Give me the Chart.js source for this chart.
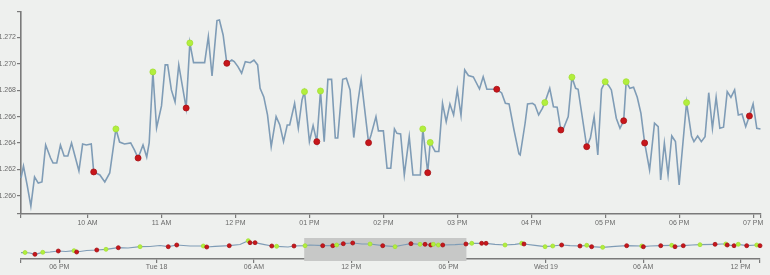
<!DOCTYPE html>
<html>
<head>
<meta charset="utf-8">
<script src="https://cdn.jsdelivr.net/npm/chart.js@4/dist/chart.umd.min.js"></script>
<style>
    body { margin: 0; background: #eef0ee; width: 770px; height: 275px; overflow: hidden; position: relative; }
    canvas { position: absolute; left: 0; }
    #mainChart { top: 0; }
    #navChart { top: 230px; }
</style>
</head>
<body>
<canvas id="mainChart" width="770" height="230"></canvas>
<canvas id="navChart" width="770" height="45"></canvas>

<script>
// ===============================
// DATA - main view (Tue 18, minutes since midnight)
// ===============================
const mainTimes = [
    546, 548, 551, 554, 557, 560, 563, 566, 570, 572,
    575, 578, 581, 584, 587, 590, 593, 596, 599, 603,
    605, 610, 614, 618, 623, 626, 630, 635, 638, 641,
    645, 648, 650, 653, 656, 660, 663, 665, 668, 671,
    674, 680, 683, 686, 695, 698, 701, 705, 707, 710,
    713, 717, 719, 722, 725, 728, 732, 735, 738, 740,
    743, 746, 749, 753, 756, 759, 762, 764, 768, 771,
    774, 776, 780, 783, 786, 789, 792, 795, 798, 801,
    803, 807, 810, 813, 816, 819, 822, 828, 830, 834,
    836, 840, 843, 846, 849, 851, 854, 857, 861, 864,
    870, 872, 876, 878, 882, 885, 888, 891, 894, 897,
    900, 903, 906, 909, 913, 918, 921, 924, 932, 936,
    939, 942, 946, 950, 951, 955, 957, 961, 963, 966,
    969, 971, 975, 978, 981, 984, 986, 990, 993, 996,
    998, 1005, 1008, 1011, 1014, 1017, 1020, 1023, 1025, 1029,
    1032, 1035, 1037, 1040, 1043, 1046, 1049, 1052, 1056, 1060,
    1063, 1065, 1068, 1071, 1074, 1077, 1080, 1086, 1090, 1092,
    1095, 1098, 1101, 1104, 1107, 1110, 1113, 1116, 1119, 1122,
    1125, 1128, 1131, 1134, 1137, 1140, 1143, 1146
];

const mainPrices = [
    1.26136, 1.26227, 1.26083, 1.25924, 1.26144, 1.26098, 1.26106, 1.26386, 1.26287, 1.26250,
    1.26250, 1.26386, 1.26303, 1.26303, 1.26401, 1.26295, 1.26189, 1.26393, 1.26386, 1.26393,
    1.26182, 1.26159, 1.26106, 1.26174, 1.26507, 1.26408, 1.26393, 1.26401, 1.26348, 1.26287,
    1.26386, 1.26295, 1.26401, 1.26938, 1.26514, 1.26681, 1.26991, 1.26991, 1.26802, 1.26711,
    1.26991, 1.26665, 1.27157, 1.27008, 1.27008, 1.27205, 1.26907, 1.27326, 1.27331, 1.27217,
    1.27003, 1.27028, 1.27016, 1.26978, 1.26928, 1.27016, 1.27008, 1.27028, 1.26991, 1.26814,
    1.26749, 1.26613, 1.26373, 1.26600, 1.26537, 1.26411, 1.26537, 1.26537, 1.26701, 1.26512,
    1.26726, 1.26789, 1.26411, 1.26533, 1.26411, 1.26794, 1.26411, 1.26882, 1.26882, 1.26439,
    1.26439, 1.26882, 1.26890, 1.26802, 1.26442, 1.26688, 1.26882, 1.26403, 1.26461, 1.26600,
    1.26492, 1.26492, 1.26210, 1.26210, 1.26507, 1.26474, 1.26469, 1.26159, 1.26448, 1.26159,
    1.26159, 1.26507, 1.26176, 1.26405, 1.26337, 1.26337, 1.26701, 1.26562, 1.26696, 1.26613,
    1.26802, 1.26609, 1.26953, 1.26911, 1.26900, 1.26809, 1.26901, 1.26807, 1.26807, 1.26779,
    1.26701, 1.26696, 1.26499, 1.26318, 1.26310, 1.26550, 1.26696, 1.26701, 1.26688, 1.26613,
    1.26663, 1.26706, 1.26814, 1.26675, 1.26671, 1.26499, 1.26507, 1.26600, 1.26898, 1.26814,
    1.26807, 1.26373, 1.26439, 1.26600, 1.26310, 1.26807, 1.26864, 1.26832, 1.26802, 1.26588,
    1.26512, 1.26569, 1.26864, 1.26814, 1.26822, 1.26746, 1.26625, 1.26401, 1.26197, 1.26550,
    1.26524, 1.26121, 1.26399, 1.26159, 1.26454, 1.26411, 1.26083, 1.26706, 1.26454, 1.26411,
    1.26454, 1.26411, 1.26448, 1.26781, 1.26512, 1.26746, 1.26512, 1.26520, 1.26789, 1.26746,
    1.26802, 1.26613, 1.26620, 1.26524, 1.26605, 1.26696, 1.26512, 1.26507
];

// buy (green) and sell (red) signals, by time
const buyTimes = [623, 653, 683, 776, 789, 872, 878, 971, 993, 1020, 1037, 1086];
const sellTimes = [605, 641, 680, 713, 786, 828, 876, 932, 984, 1005, 1035, 1052, 1137];

// axis
const mainMin = 546;
const mainMax = 1146;
const mainTickTimes = [600, 660, 720, 780, 840, 900, 960, 1020, 1080, 1140];
const mainTickLabels = ["10 AM", "11 AM", "12 PM", "01 PM", "02 PM", "03 PM", "04 PM", "05 PM", "06 PM", "07 PM"];
const priceMin = 1.25864;
const priceMax = 1.27391;
const priceTicks = [1.260, 1.262, 1.264, 1.266, 1.268, 1.270, 1.272];

// ===============================
// DATA - navigator (hours since Mon 17 00:00)
// ===============================
const navHours = [
    15.64, 15.89, 16.19, 16.50, 16.98, 17.43, 17.94, 18.41, 18.91, 19.07,
    19.69, 20.31, 20.88, 21.64, 22.24, 22.98, 23.59, 24.21, 24.72, 25.24,
    26.06, 26.88, 27.09, 27.60, 28.48, 29.14, 29.65, 29.76, 30.07, 30.58,
    31.10, 31.40, 32.10, 32.47, 33.15, 33.46, 34.24, 34.86, 35.10, 35.51,
    36.09, 36.66, 37.16, 37.94, 38.70, 39.19, 39.68, 40.24, 40.55, 40.90,
    41.06, 41.37, 41.64, 42.40, 43.07, 43.43, 44.04, 44.31, 44.86, 45.48,
    46.10, 46.51, 46.65, 47.33, 47.95, 48.42, 48.97, 49.49, 50.10, 50.52,
    50.82, 51.50, 52.26, 52.98, 53.91, 54.01, 54.42, 55.08, 55.76, 55.96,
    56.47, 57.01, 57.50, 58.43, 58.84, 59.09, 59.18, 59.60, 59.86, 60.38,
    61.00, 61.20
];

const navPrices = [
    1.25676, 1.25700, 1.25640, 1.25484, 1.25724, 1.25760, 1.25880, 1.25820, 1.25916, 1.25760,
    1.25940, 1.26000, 1.26084, 1.26276, 1.26240, 1.26396, 1.26420, 1.26540, 1.26396, 1.26600,
    1.26480, 1.26480, 1.26360, 1.26444, 1.26516, 1.26660, 1.27116, 1.26876, 1.26876, 1.26684,
    1.26480, 1.26444, 1.26360, 1.26480, 1.26516, 1.26600, 1.26516, 1.26516, 1.26600, 1.26756,
    1.26840, 1.26720, 1.26720, 1.26516, 1.26396, 1.26600, 1.26756, 1.26684, 1.26684, 1.26600,
    1.26684, 1.26600, 1.26600, 1.26636, 1.26720, 1.26804, 1.26804, 1.26804, 1.26684, 1.26600,
    1.26684, 1.26804, 1.26720, 1.26564, 1.26396, 1.26480, 1.26600, 1.26516, 1.26480, 1.26564,
    1.26396, 1.26324, 1.26444, 1.26516, 1.26480, 1.26396, 1.26480, 1.26516, 1.26564, 1.26396,
    1.26516, 1.26600, 1.26636, 1.26684, 1.26720, 1.26720, 1.26600, 1.26516, 1.26684, 1.26516,
    1.26600, 1.26516
];

const navBuy = [15.89, 16.98, 18.91, 20.88, 22.98, 26.88, 29.65, 31.40, 33.15, 35.10,
    37.16, 38.70, 40.24, 41.06, 41.37, 43.43, 45.48, 46.51, 47.95, 48.42,
    50.52, 51.50, 53.91, 55.76, 57.50, 59.09, 59.86, 61.00];
const navSell = [16.50, 17.94, 19.07, 20.31, 21.64, 24.72, 25.24, 27.09, 28.48, 29.76,
    30.07, 31.10, 32.47, 34.24, 34.86, 35.51, 36.09, 37.94, 39.68, 40.55,
    40.90, 41.64, 43.07, 44.04, 44.31, 46.65, 48.97, 50.10, 50.82, 52.98,
    54.01, 55.08, 55.96, 56.47, 58.43, 59.18, 59.60, 60.38, 61.20];

const navMin = 15.64;
const navMax = 61.20;
const navTickHours = [18, 24, 30, 36, 42, 48, 54, 60];
const navTickLabels = ["06 PM", "Tue 18", "06 AM", "12 PM", "06 PM", "Wed 19", "06 AM", "12 PM"];

// ===============================
// STYLE
// ===============================
const lineColor = "#7f9cb6";
const axisColor = "#7a7a7a";
const labelColor = "#6a6a6a";
const buyColor = "#b2ef3c";
const sellColor = "#c8161b";
const tickFont = { family: "Liberation Sans", size: 7 };

function signalStyle(times, buys, sells, radius) {
    const buySet = new Set(buys);
    const sellSet = new Set(sells);
    return {
        pointRadius: ctx => {
            const t = times[ctx.dataIndex];
            return (buySet.has(t) || sellSet.has(t)) ? radius : 0;
        },
        pointHoverRadius: ctx => {
            const t = times[ctx.dataIndex];
            return (buySet.has(t) || sellSet.has(t)) ? radius : 0;
        },
        pointBackgroundColor: ctx => buySet.has(times[ctx.dataIndex]) ? buyColor : sellColor,
        pointBorderColor: ctx => buySet.has(times[ctx.dataIndex]) ? "#a3de35" : "#a51014",
        pointBorderWidth: 0.8
    };
}

// ===============================
// MAIN CHART
// ===============================
new Chart(document.getElementById("mainChart"), {
    type: "line",
    data: {
        datasets: [{
            data: mainTimes.map((t, i) => ({ x: t, y: mainPrices[i] })),
            borderColor: lineColor,
            borderWidth: 1.6,
            tension: 0,
            clip: false,
            ...signalStyle(mainTimes, buyTimes, sellTimes, 3)
        }]
    },
    options: {
        responsive: false,
        animation: false,
        events: [],
        layout: { padding: { top: 12, right: 9.5, left: 0, bottom: 0 } },
        plugins: { legend: { display: false }, tooltip: { enabled: false } },
        scales: {
            x: {
                type: "linear",
                min: mainMin,
                max: mainMax,
                afterBuildTicks: s => {
                    s.ticks = [mainMin, ...mainTickTimes, mainMax].map(v => ({ value: v }));
                },
                afterFit: s => { s.height = 16; },
                ticks: {
                    autoSkip: false,
                    maxRotation: 0,
                    padding: 1,
                    color: labelColor,
                    font: tickFont,
                    callback: v => {
                        const i = mainTickTimes.indexOf(v);
                        return i >= 0 ? mainTickLabels[i] : "";
                    }
                },
                grid: { drawOnChartArea: false, tickLength: 4, color: axisColor, lineWidth: 1.2 },
                border: { color: axisColor, width: 1.6 }
            },
            y: {
                min: priceMin,
                max: priceMax,
                afterBuildTicks: s => {
                    s.ticks = [priceMin, ...priceTicks, priceMax].map(v => ({ value: v }));
                },
                afterFit: s => { s.width = 21; },
                ticks: {
                    autoSkip: false,
                    padding: 1,
                    color: labelColor,
                    font: tickFont,
                    callback: v => priceTicks.includes(v) ? v.toFixed(3) : ""
                },
                grid: { drawOnChartArea: false, tickLength: 4, color: axisColor, lineWidth: 1.2 },
                border: { color: axisColor, width: 1.6 }
            }
        }
    }
});

// ===============================
// NAVIGATOR
// ===============================
const maskPlugin = {
    id: "mask",
    beforeDatasetsDraw(chart) {
        const x = chart.scales.x;
        const area = chart.chartArea;
        const a = x.getPixelForValue(24 + mainMin / 60);
        const b = x.getPixelForValue(24 + mainMax / 60);
        const ctx = chart.ctx;
        ctx.save();
        ctx.fillStyle = "#c7c8c7";
        ctx.fillRect(a, area.top, b - a, area.bottom - area.top + 2);
        ctx.restore();
    }
};

new Chart(document.getElementById("navChart"), {
    type: "line",
    data: {
        datasets: [{
            data: navHours.map((h, i) => ({ x: h, y: navPrices[i] })),
            borderColor: lineColor,
            borderWidth: 1.2,
            tension: 0,
            clip: false,
            ...signalStyle(navHours, navBuy, navSell, 2)
        }]
    },
    options: {
        responsive: false,
        animation: false,
        events: [],
        layout: { padding: { top: 8, right: 10, left: 21, bottom: 0 } },
        plugins: { legend: { display: false }, tooltip: { enabled: false } },
        scales: {
            x: {
                type: "linear",
                min: navMin,
                max: navMax,
                afterBuildTicks: s => {
                    s.ticks = [navMin, ...navTickHours, navMax].map(v => ({ value: v }));
                },
                afterFit: s => { s.height = 16; },
                ticks: {
                    autoSkip: false,
                    maxRotation: 0,
                    padding: 0,
                    color: labelColor,
                    font: tickFont,
                    callback: v => {
                        const i = navTickHours.indexOf(v);
                        return i >= 0 ? navTickLabels[i] : "";
                    }
                },
                grid: { drawOnChartArea: false, tickLength: 4, color: axisColor, lineWidth: 1.2 },
                border: { color: axisColor, width: 1.4 }
            },
            y: {
                display: false,
                min: 1.2492,
                max: 1.2744
            }
        }
    },
    plugins: [maskPlugin]
});
</script>
</body>
</html>
